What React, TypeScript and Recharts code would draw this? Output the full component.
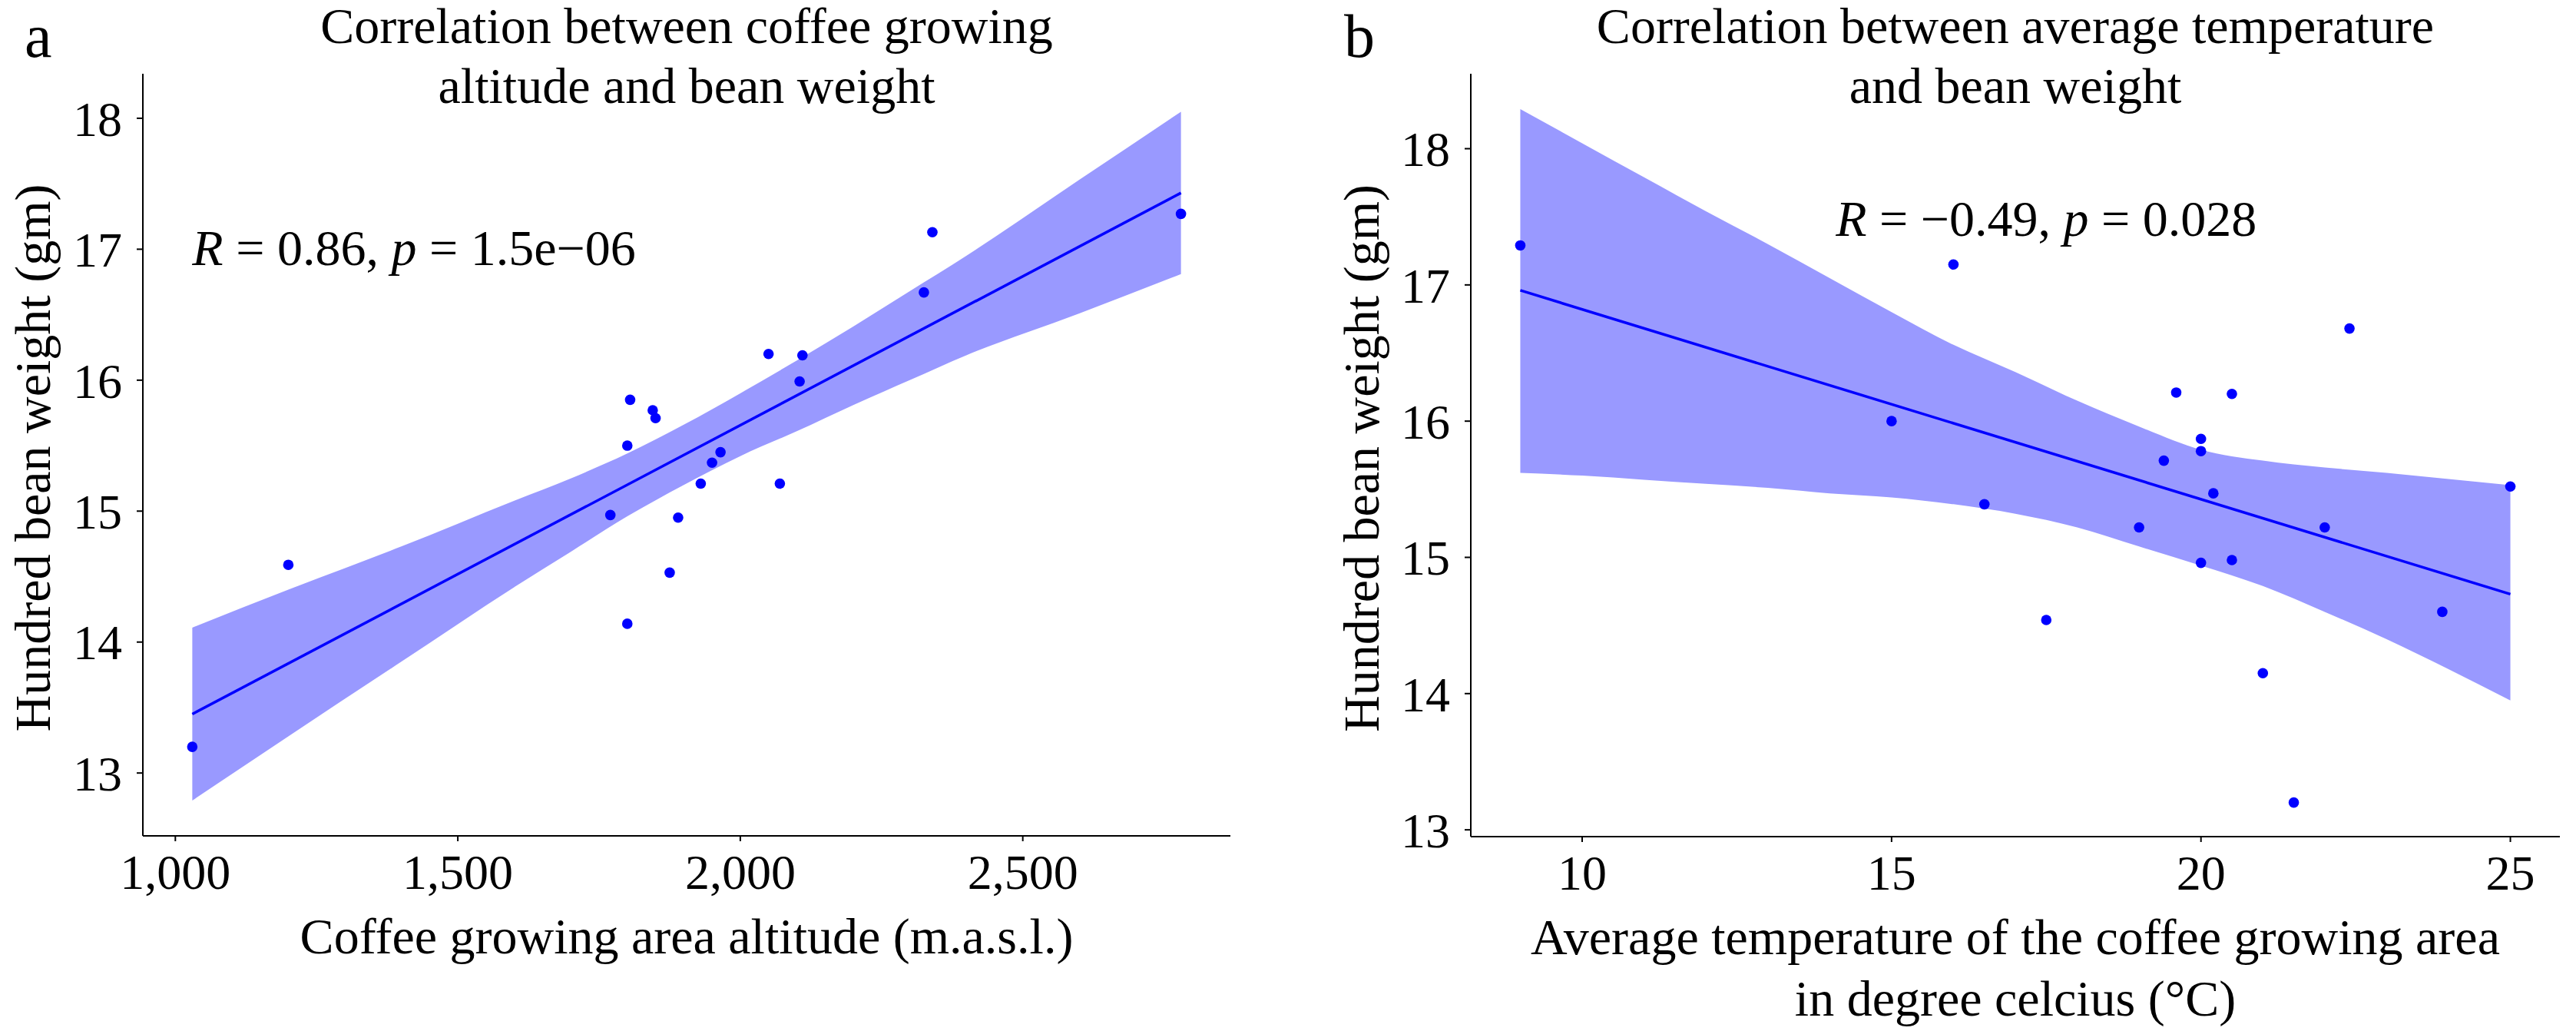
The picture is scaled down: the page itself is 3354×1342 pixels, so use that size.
import React from 'react';
import { ComposedChart, Scatter, Line, Area, XAxis, YAxis, ReferenceDot } from 'recharts';

const FONT = '"Liberation Serif", "Times New Roman", Times, serif';
const BLUE = '#0000FF';
const BAND = '#9999FF';

// ---------- Panel a : altitude vs bean weight ----------
const altitude = [2780, 2340, 2325, 2050, 2110, 2105, 1805, 1845, 1850, 1800, 1965, 1950, 1930, 2070, 1770, 1890, 1200, 1875, 1800, 1030];
const weightA = [17.27, 17.13, 16.67, 16.2, 16.19, 15.99, 15.85, 15.77, 15.71, 15.5, 15.45, 15.37, 15.21, 15.21, 14.97, 14.95, 14.59, 14.53, 14.14, 13.2];
const bandAltitude = [1030, 1200, 1400, 1600, 1700, 1800, 1900, 2000, 2100, 2200, 2300, 2400, 2600, 2780];
const bandLowerA = [12.79, 13.28, 13.85, 14.42, 14.69, 14.96, 15.2, 15.42, 15.61, 15.81, 16.0, 16.19, 16.51, 16.81];
const bandUpperA = [14.11, 14.4, 14.73, 15.08, 15.25, 15.44, 15.66, 15.9, 16.15, 16.41, 16.68, 16.95, 17.53, 18.05];
const fitAltitude = [1030, 2780];
const fitWeightA = [13.45, 17.43];
const altitudeTicks = [1000, 1500, 2000, 2500];
const weightTicksA = [13, 14, 15, 16, 17, 18];

// ---------- Panel b : temperature vs bean weight ----------
const temperature = [9, 16, 22.4, 19.6, 20.5, 15, 20, 20, 19.4, 20.2, 25, 16.5, 19, 22, 20, 20.5, 17.5, 23.9, 21, 21.5];
const weightB = [17.29, 17.15, 16.68, 16.21, 16.2, 16.0, 15.87, 15.78, 15.71, 15.47, 15.52, 15.39, 15.22, 15.22, 14.96, 14.98, 14.54, 14.6, 14.15, 13.2];
const bandTemperature = [9, 10, 11, 12, 13, 14, 15, 16, 17, 18, 19, 20, 21, 22, 23, 24, 25];
const bandLowerB = [15.62, 15.6, 15.57, 15.54, 15.51, 15.47, 15.44, 15.39, 15.32, 15.22, 15.08, 14.94, 14.79, 14.6, 14.4, 14.18, 13.95];
const bandUpperB = [18.29, 18.04, 17.79, 17.54, 17.3, 17.05, 16.8, 16.56, 16.36, 16.15, 15.96, 15.79, 15.71, 15.66, 15.62, 15.575, 15.53];
const fitTemperature = [9, 25];
const fitWeightB = [16.96, 14.73];
const temperatureTicks = [10, 15, 20, 25];
const weightTicksB = [13, 14, 15, 16, 17, 18];

// ---------- tables built from the arrays ----------
const pointsA = altitude.map((x, i) => ({ x, y: weightA[i] }));
const bandA = bandAltitude.map((x, i) => ({ x, band: [bandLowerA[i], bandUpperA[i]] }));
const fitA = fitAltitude.map((x, i) => ({ x, y: fitWeightA[i] }));
const pointsB = temperature.map((x, i) => ({ x, y: weightB[i] }));
const bandB = bandTemperature.map((x, i) => ({ x, band: [bandLowerB[i], bandUpperB[i]] }));
const fitB = fitTemperature.map((x, i) => ({ x, y: fitWeightB[i] }));

const tickStyle = { fill: '#000', fontSize: 64, fontFamily: FONT };
const axisLineStyle = { stroke: '#000', strokeWidth: 2 };

const dotShape = (p: any) => <circle cx={p.cx} cy={p.cy} r={6.8} fill={BLUE} />;

const yTitle = (offsetX: number) => (props: any) => {
  const vb = props.viewBox || {};
  const cx = (vb.x || 0) + offsetX;
  const cy = (vb.y || 0) + (vb.height || 0) / 2 + 4;
  return (
    <text x={cx} y={cy} transform={`rotate(-90 ${cx} ${cy})`} textAnchor="middle" fontFamily={FONT} fontSize={66} fill="#000">
      Hundred bean weight (gm)
    </text>
  );
};

const xTitle = (lines: string[]) => (props: any) => {
  const vb = props.viewBox || {};
  const cx = (vb.x || 0) + (vb.width || 0) / 2;
  const y0 = (vb.y || 0) + 153;
  return (
    <text textAnchor="middle" fontFamily={FONT} fontSize={66} fill="#000">
      {lines.map((l, i) => (
        <tspan key={i} x={cx} y={y0 + i * 80}>{l}</tspan>
      ))}
    </text>
  );
};

const corLabel = (r: string, p: string, anchor: 'start' | 'middle') => (props: any) => {
  const vb = props.viewBox || {};
  const x = (vb.x || 0) + (vb.width || 0) / 2;
  const y = (vb.y || 0) + (vb.height || 0) / 2;
  return (
    <text x={x} y={y} textAnchor={anchor} fontFamily={FONT} fontSize={66} fill="#000">
      <tspan fontStyle="italic">R</tspan>
      {` = ${r}, `}
      <tspan fontStyle="italic">p</tspan>
      {` = ${p}`}
    </text>
  );
};

const fmtThousands = (v: number) => v.toLocaleString('en-US');

function PanelA() {
  return (
    <ComposedChart width={1677} height={1342} margin={{ top: 96, right: 75, bottom: 0, left: 0 }}>
      <XAxis
        type="number"
        dataKey="x"
        domain={[942.5, 2867.5]}
        allowDataOverflow
        ticks={altitudeTicks}
        interval={0}
        tickFormatter={fmtThousands}
        height={254}
        tickSize={7}
        tickMargin={17}
        tick={tickStyle}
        axisLine={axisLineStyle}
        tickLine={axisLineStyle}
        label={xTitle(['Coffee growing area altitude (m.a.s.l.)'])}
      />
      <YAxis
        type="number"
        domain={[12.52, 18.34]}
        allowDataOverflow
        ticks={weightTicksA}
        interval={0}
        width={186}
        tickSize={8}
        tickMargin={19}
        tick={tickStyle}
        axisLine={axisLineStyle}
        tickLine={axisLineStyle}
        label={yTitle(65)}
      />
      <Area data={bandA} dataKey="band" type="monotone" fill={BAND} fillOpacity={1} stroke="none" isAnimationActive={false} />
      <Line data={fitA} dataKey="y" type="linear" stroke={BLUE} strokeWidth={3.5} dot={false} activeDot={false} isAnimationActive={false} />
      <Scatter data={pointsA} dataKey="y" shape={dotShape} isAnimationActive={false} />
      <ReferenceDot x={1030} y={16.88} r={1} fill="none" stroke="none" label={corLabel('0.86', '1.5e\u221206', 'start')} />
    </ComposedChart>
  );
}

function PanelB() {
  return (
    <ComposedChart width={1677} height={1342} margin={{ top: 96, right: 21, bottom: 0, left: 0 }}>
      <XAxis
        type="number"
        dataKey="x"
        domain={[8.2, 25.8]}
        allowDataOverflow
        ticks={temperatureTicks}
        interval={0}
        height={253}
        tickSize={7}
        tickMargin={17}
        tick={tickStyle}
        axisLine={axisLineStyle}
        tickLine={axisLineStyle}
        label={xTitle(['Average temperature of the coffee growing area', 'in degree celcius (\u00B0C)'])}
      />
      <YAxis
        type="number"
        domain={[12.95, 18.55]}
        allowDataOverflow
        ticks={weightTicksB}
        interval={0}
        width={238}
        tickSize={8}
        tickMargin={19}
        tick={tickStyle}
        axisLine={axisLineStyle}
        tickLine={axisLineStyle}
        label={yTitle(118)}
      />
      <Area data={bandB} dataKey="band" type="monotone" fill={BAND} fillOpacity={1} stroke="none" isAnimationActive={false} />
      <Line data={fitB} dataKey="y" type="linear" stroke={BLUE} strokeWidth={3.5} dot={false} activeDot={false} isAnimationActive={false} />
      <Scatter data={pointsB} dataKey="y" shape={dotShape} isAnimationActive={false} />
      <ReferenceDot x={17.5} y={17.36} r={1} fill="none" stroke="none" label={corLabel('\u22120.49', '0.028', 'middle')} />
    </ComposedChart>
  );
}

export default function App() {
  return (
    <div style={{ position: 'absolute', left: 0, top: 0, width: 3354, height: 1342, background: '#fff', overflow: 'hidden' }}>
      <div style={{ position: 'absolute', left: 0, top: 0 }}>
        <PanelA />
      </div>
      <div style={{ position: 'absolute', left: 1677, top: 0 }}>
        <PanelB />
      </div>
      <svg width={3354} height={1342} style={{ position: 'absolute', left: 0, top: 0, pointerEvents: 'none' }}>
        <g fontFamily={FONT} fill="#000">
          <text x={32} y={74} fontSize={80}>a</text>
          <text x={1750} y={74} fontSize={80}>b</text>
          <text x={894} y={56} fontSize={66} textAnchor="middle">Correlation between coffee growing</text>
          <text x={894} y={134} fontSize={66} textAnchor="middle">altitude and bean weight</text>
          <text x={2624} y={56} fontSize={66} textAnchor="middle">Correlation between average temperature</text>
          <text x={2624} y={134} fontSize={66} textAnchor="middle">and bean weight</text>
        </g>
      </svg>
    </div>
  );
}
